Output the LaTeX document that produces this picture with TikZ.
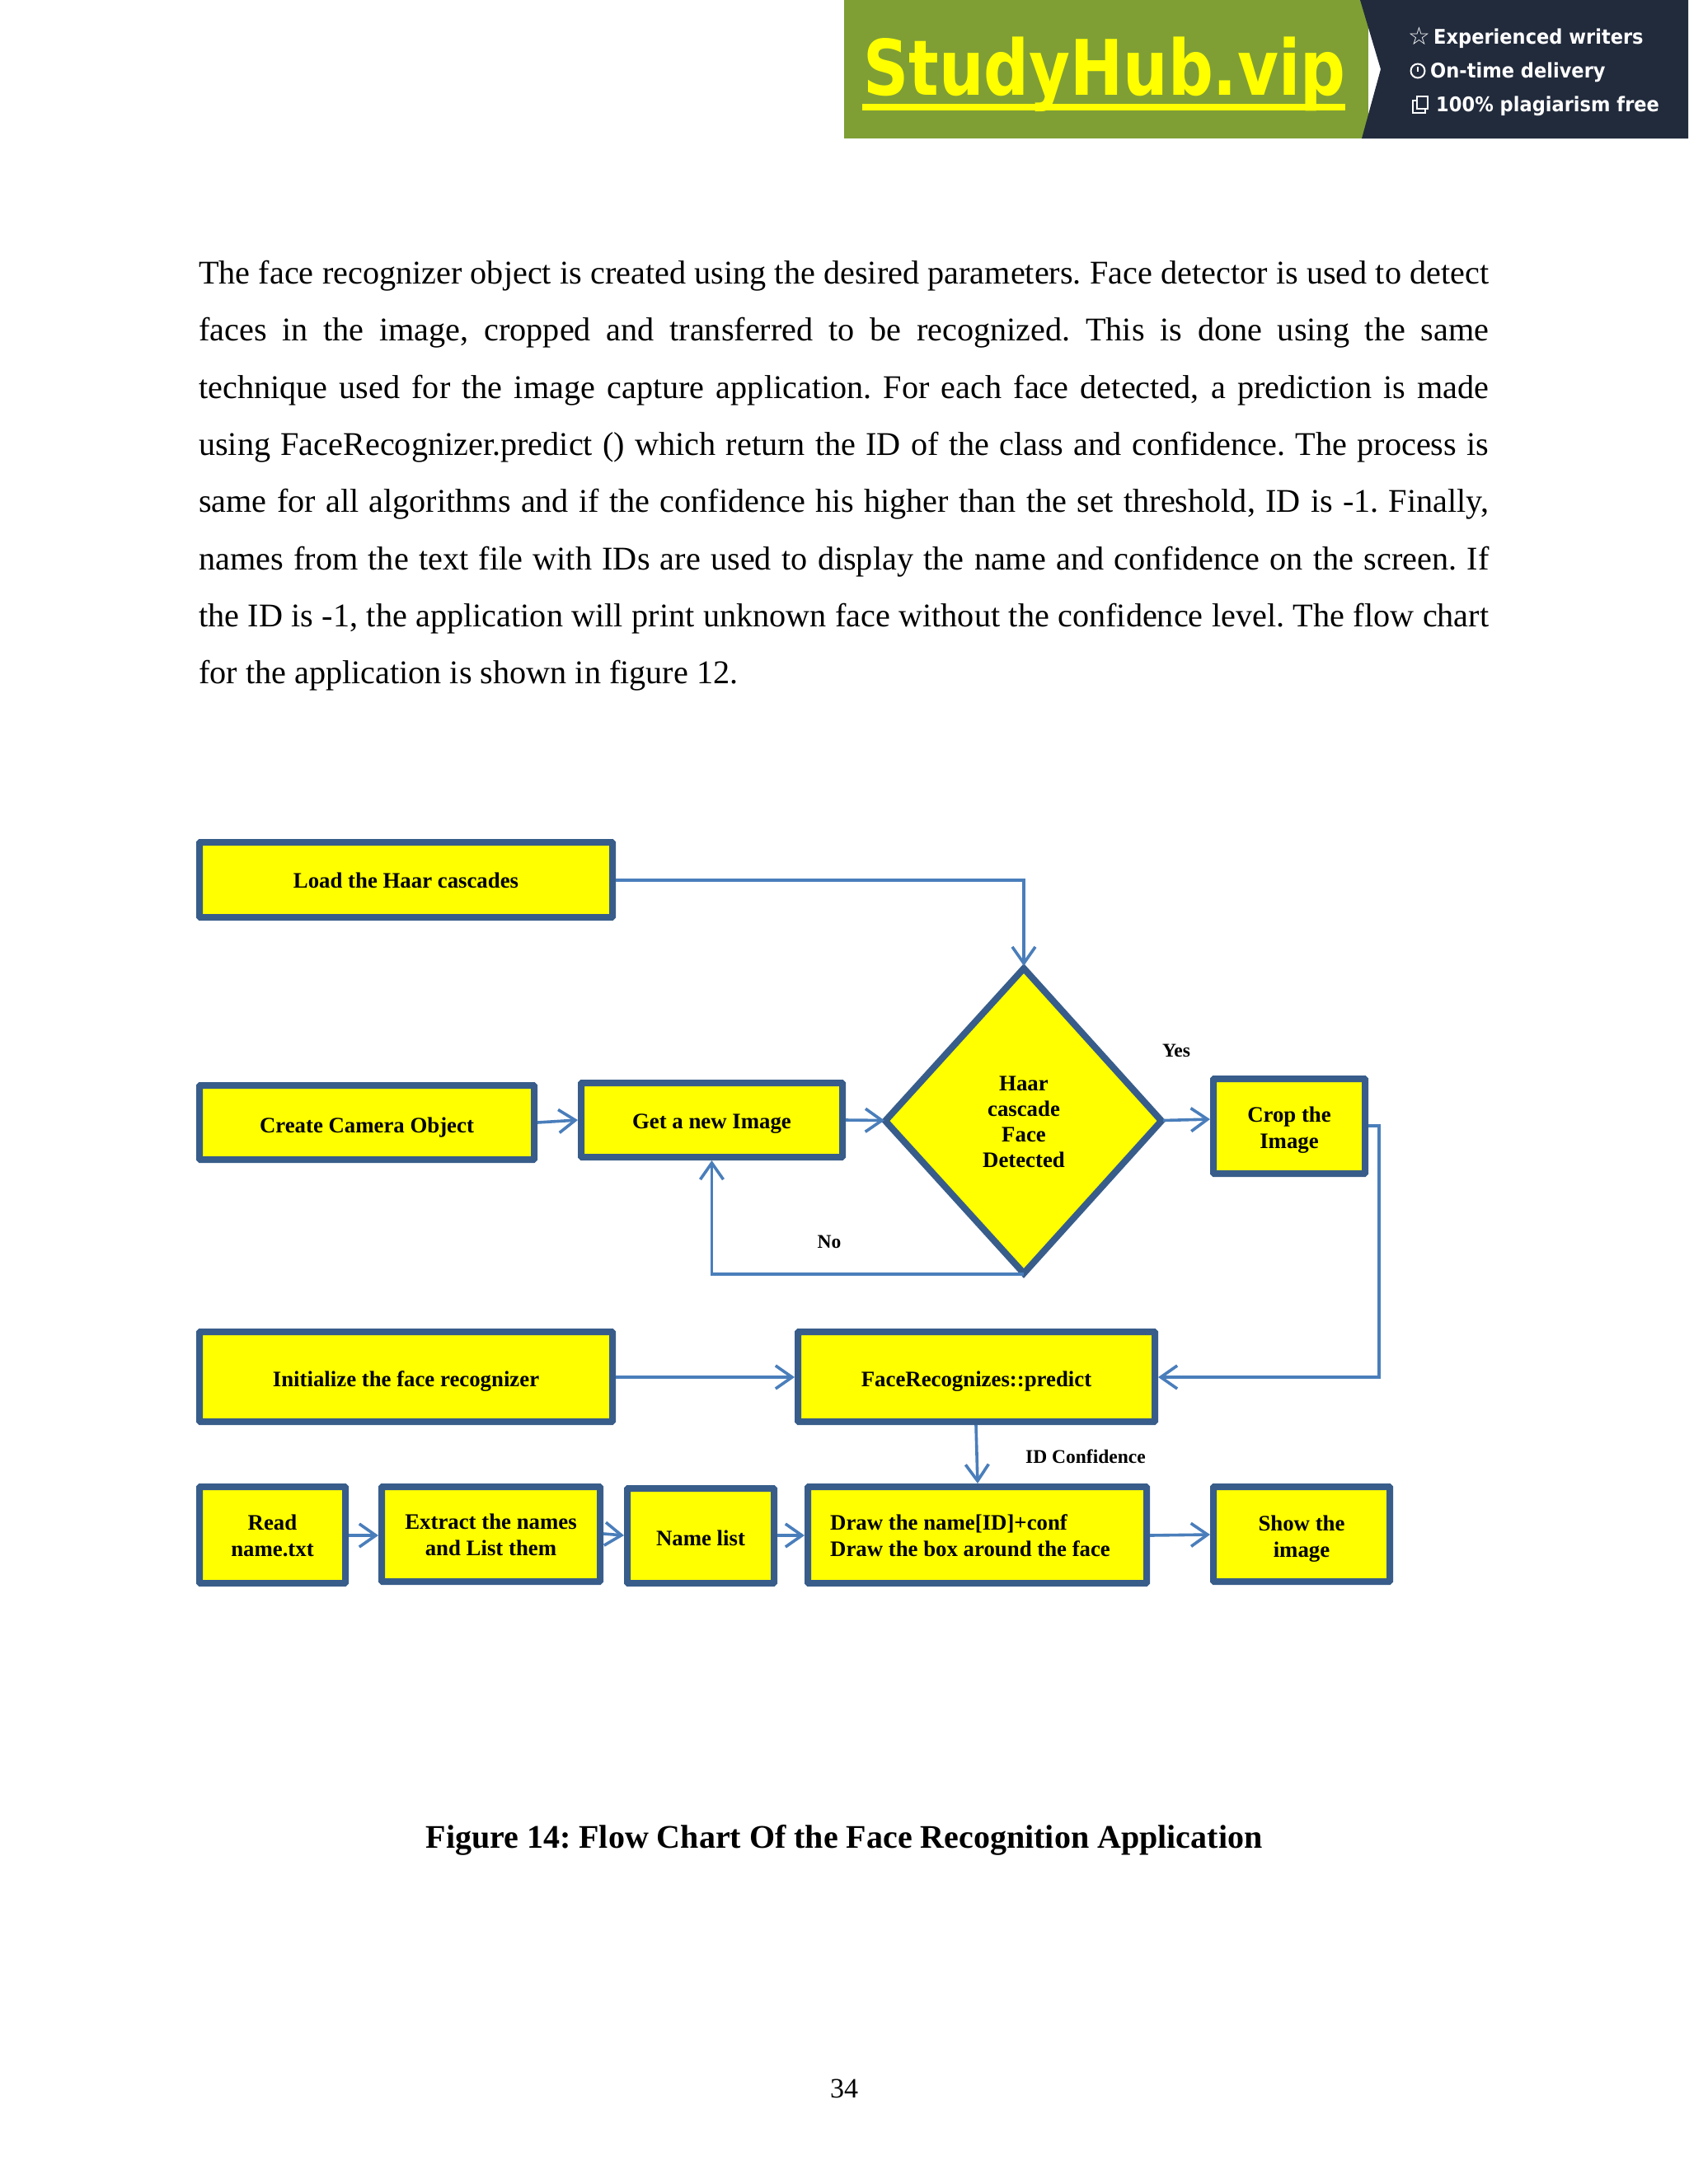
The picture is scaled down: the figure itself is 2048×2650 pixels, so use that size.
\documentclass[tikz,border=0pt]{standalone}
\usepackage{fontspec}
\setmainfont{Liberation Serif}
\newfontfamily\tagfont{DejaVu Sans}
\frenchspacing
\usetikzlibrary{shapes.geometric,arrows.meta,calc}
\definecolor{boxline}{HTML}{385D8A}
\definecolor{arrowline}{HTML}{4A7EBB}
\definecolor{boxfill}{HTML}{FFFF00}
\definecolor{bannergreen}{HTML}{7F9F35}
\definecolor{bannerdark}{HTML}{222B3C}
\tikzset{
  x=1pt,y=-1pt,
  flowbox/.style={draw=boxline,fill=boxfill,line width=8pt,rounded corners=1pt,inner sep=0pt},
  flowtext/.style={font=\fontsize{26.8}{32}\selectfont\bfseries,align=center,text=black,inner sep=0pt},
  flowlabel/.style={font=\fontsize{23.5}{27}\selectfont\bfseries,text=black,inner sep=0pt},
  conn/.style={draw=arrowline,line width=3.6pt,-{Straight Barb[length=20pt,width=28pt,line width=3.6pt]}},
  bodyline/.style={anchor=base west,inner sep=0pt,font=\fontsize{40.2}{47}\selectfont},
  tag/.style={anchor=west,inner sep=0pt,text=white,font=\tagfont\fontsize{24.5}{28}\selectfont\bfseries},
}
\newcommand{\boxat}[7]{% name, x1,y1,x2,y2,text offset,text
  \path[flowbox] (#2+4,#3+4) rectangle (#4-4,#5-4);
  \node[flowtext] (#1) at ({(#2+#4)/2},{(#3+#5)/2+#6}) {#7};
}
\newcommand{\tagbox}[1]{\scalebox{0.92}[1]{#1}}
\begin{document}
\begin{tikzpicture}
\useasboundingbox[fill=white] (0,0) rectangle (2048,2650);
% banner
\fill[bannergreen] (1024,0) rectangle (1660,168);
\fill[bannerdark] (1650,0) -- (1675,84) -- (1652,168) -- (2048,168) -- (2048,0) -- cycle;
\node[anchor=base west,inner sep=0pt,text=boxfill,font=\tagfont\fontsize{93}{100}\selectfont\bfseries] (brand) at (1047,115) {\scalebox{0.824}[1]{StudyHub.vip}};
\fill[boxfill] (1046,126) rectangle (1632,134);
\node[tag] (t1) at (1739,47) {\tagbox{Experienced writers}};
\node[tag] (t2) at (1735,88) {\tagbox{On-time delivery}};
\node[tag] (t3) at (1742,129) {\tagbox{100\% plagiarism free}};
\node[anchor=center,inner sep=0pt,text=white,font=\tagfont\fontsize{30}{32}\selectfont] (star) at (1722,44) {☆};
\draw[white,line width=2pt] (1720,86) circle (8.5);
\draw[white,line width=2pt] (1720,81) -- (1720,87);
\draw[white,line width=2pt] (1714,122) rectangle (1729,137);
\draw[white,line width=2pt,fill=bannerdark] (1719,117) rectangle (1732,132);
% body
\node[bodyline] at (241,344) {\makebox[1565pt][s]{The face recognizer object is created using the desired parameters. Face detector is used to detect}};
\node[bodyline] at (241,413) {\makebox[1565pt][s]{faces in the image, cropped and transferred to be recognized. This is done using the same}};
\node[bodyline] at (241,483) {\makebox[1565pt][s]{technique used for the image capture application. For each face detected, a prediction is made}};
\node[bodyline] at (241,552) {\makebox[1565pt][s]{using FaceRecognizer.predict () which return the ID of the class and confidence. The process is}};
\node[bodyline] at (241,621) {\makebox[1565pt][s]{same for all algorithms and if the confidence his higher than the set threshold, ID is -1. Finally,}};
\node[bodyline] at (241,691) {\makebox[1565pt][s]{names from the text file with IDs are used to display the name and confidence on the screen. If}};
\node[bodyline] at (241,760) {\makebox[1565pt][s]{the ID is -1, the application will print unknown face without the confidence level. The flow chart}};
\node[bodyline] at (241,829) {for the application is shown in figure 12.};
% boxes
\boxat{load}{238}{1018}{747}{1117}{1}{Load the Haar cascades}
\boxat{camera}{238}{1313}{652}{1411}{6}{Create Camera Object}
\boxat{newimg}{701}{1310}{1026}{1408}{5}{Get a new Image}
\boxat{crop}{1468}{1305}{1660}{1428}{5}{Crop the\\Image}
\boxat{init}{238}{1612}{747}{1729}{6}{Initialize the face recognizer}
\boxat{predict}{964}{1612}{1405}{1729}{6}{FaceRecognizes::predict}
\boxat{readf}{238}{1800}{423}{1925}{1}{Read\\name.txt}
\boxat{extract}{459}{1800}{732}{1923}{1}{Extract the names\\and List them}
\boxat{namelist}{757}{1802}{943}{1925}{2.5}{Name list}
\path[flowbox] (980,1804) rectangle (1391,1921);
\coordinate (drawbox-n) at (1186,1800);
\coordinate (drawbox-w) at (976,1863);
\coordinate (drawbox-e) at (1395,1863);
\boxat{show}{1468}{1800}{1690}{1923}{5.5}{Show the\\image}
\node[flowtext,align=left,anchor=west] (drawtxt) at (1007,1863) {Draw the name[ID]+conf\\Draw the box around the face};
% decision
\draw[boxline,fill=boxfill,line width=8pt,line join=miter] (1242,1175) -- (1409,1360) -- (1242,1545) -- (1074,1360) -- cycle;
\node[flowtext,font=\fontsize{26.8}{31}\selectfont\bfseries] (haar) at (1242,1361) {Haar\\cascade\\Face\\Detected};
\coordinate (dtop) at (1242,1172);
\coordinate (dbot) at (1242,1546);
\coordinate (dleft) at (1073,1359.5);
\coordinate (dright) at (1411,1359.5);
\coordinate (loadout) at (747,1068);
% connectors
\draw[conn] (loadout) -- (dtop |- loadout) -- (dtop);
\draw[conn] (652,1362) -- (701,1359);
\draw[conn] (1026,1359) -- (dleft);
\draw[conn] (dright) -- (1468,1358);
\draw[conn] (dbot) -- (newimg |- dbot) -- (newimg |- 0,1408);
\draw[conn] (747,1671) -- (964,1671);
\draw[conn] (1660,1366) -- (1673,1366) -- (1673,1671) -- (1405,1671);
\draw[conn] (1184,1729) -- (drawbox-n);
\draw[conn] (423,1863) -- (459,1863);
\draw[conn] (732,1861) -- (757,1863);
\draw[conn] (943,1863) -- (drawbox-w);
\draw[conn] (drawbox-e) -- (1468,1862);
% labels
\node[flowlabel] (yes) at (1427,1275) {Yes};
\node[flowlabel] (no) at (1006,1507) {No};
\node[flowlabel] (idc) at (1317,1767) {ID Confidence};
% caption
\node[inner sep=0pt,anchor=base,font=\fontsize{40}{47}\selectfont\bfseries] (caption) at (1024,2242) {Figure 14: Flow Chart Of the Face Recognition Application};
\node[inner sep=0pt,anchor=base,font=\fontsize{34}{40}\selectfont] (page) at (1024,2545) {34};
\end{tikzpicture}
\end{document}
